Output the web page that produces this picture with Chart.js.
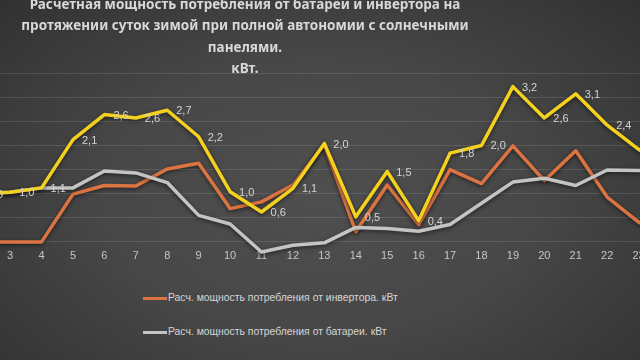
<!DOCTYPE html>
<html>
<head>
<meta charset="utf-8">
<script src="https://cdn.jsdelivr.net/npm/chart.js@4/dist/chart.umd.min.js"></script>
<style>
  html, body { margin: 0; padding: 0; }
  body { width: 640px; height: 360px; overflow: hidden; position: relative;
    background: radial-gradient(ellipse 75% 85% at 50% 55%, #4f4f4f 0%, #474747 45%, #2e2e2e 100%); }
  #c { position: absolute; left: -180px; top: -20px; }
  #legend { position: absolute; left: 143px; top: 291px; margin: 0; padding: 0; list-style: none;
    font-family: "Liberation Sans", Arial, sans-serif; font-size: 10.4px; color: #d6d6d6; }
  #legend li { height: 34px; display: flex; align-items: flex-start; white-space: nowrap; }
  #legend .mk { display: inline-block; width: 24px; height: 3px; margin-top: 6px; margin-right: 1px; }
  #legend .tx { line-height: 14px; }
</style>
</head>
<body>
<canvas id="c" width="850" height="286"></canvas>
<ul id="legend"></ul>
<script>
// ---- data ----
const hours = ['1','2','3','4','5','6','7','8','9','10','11','12','13','14','15','16','17','18','19','20','21','22','23','24'];
const inverterKw = [0, 0, 0, 0, 0.99, 1.17, 1.16, 1.51, 1.63, 0.69, 0.83, 1.18, 2.02, 0.21, 1.18, 0.36, 1.50, 1.21, 1.99, 1.27, 1.89, 0.93, 0.41, 0.10];
const batteryKw  = [1.0, 1.0, 1.03, 1.12, 1.12, 1.47, 1.43, 1.23, 0.55, 0.37, -0.21, -0.07, -0.02, 0.30, 0.28, 0.22, 0.36, 0.80, 1.24, 1.32, 1.17, 1.49, 1.48, 1.45];
const totalKw    = [1.0, 1.0, 1.03, 1.12, 2.12, 2.64, 2.57, 2.73, 2.18, 1.04, 0.62, 1.11, 2.04, 0.52, 1.46, 0.44, 1.84, 2.00, 3.22, 2.57, 3.07, 2.42, 1.92, 1.50];
const seriesNames = [
  'Расч. мощность потребления от инвертора. кВт',
  'Расч. мощность потребления от батареи. кВт',
  'Расч. суммарная мощность потребления. кВт'
];
const titleLines = [
  'Расчетная мощность потребления от батареи и инвертора на',
  'протяжении суток зимой при полной автономии с солнечными',
  'панелями.',
  'кВт.'
];
const yTicks = { min: -0.5, max: 3.5, step: 0.5 };

const shadowPlugin = {
  id: 'lineShadow',
  beforeDatasetDraw(chart) {
    const ctx = chart.ctx;
    ctx.save();
    ctx.shadowColor = 'rgba(0,0,0,0.55)';
    ctx.shadowBlur = 4;
    ctx.shadowOffsetY = 1.5;
  },
  afterDatasetDraw(chart) { chart.ctx.restore(); }
};

const valueLabels = {
  id: 'valueLabels',
  afterDatasetsDraw(chart) {
    const ctx = chart.ctx;
    const idx = 2;
    const meta = chart.getDatasetMeta(idx);
    const data = chart.data.datasets[idx].data;
    ctx.save();
    ctx.font = '11px "Liberation Sans", Arial, sans-serif';
    ctx.fillStyle = '#d4d4d4';
    ctx.textAlign = 'left';
    ctx.textBaseline = 'middle';
    meta.data.forEach((pt, i) => {
      ctx.fillText(data[i].toFixed(1).replace('.', ','), pt.x + 9, pt.y + 1);
    });
    ctx.restore();
  }
};

const chart = new Chart(document.getElementById('c'), {
  type: 'line',
  data: {
    labels: hours,
    datasets: [
      { label: seriesNames[0], data: inverterKw, borderColor: '#dc7442', order: 2 },
      { label: seriesNames[1], data: batteryKw, borderColor: '#c4c4c4', order: 1 },
      { label: seriesNames[2], data: totalKw, borderColor: '#f3d11e', order: 0 }
    ]
  },
  options: {
    responsive: false,
    animation: false,
    devicePixelRatio: 1,
    layout: { padding: 0 },
    elements: {
      line: { borderWidth: 3.5, tension: 0, borderJoinStyle: 'round', borderCapStyle: 'round', fill: false },
      point: { radius: 0, hoverRadius: 0 }
    },
    plugins: {
      legend: { display: false },
      tooltip: { enabled: false },
      title: {
        display: true,
        text: titleLines,
        color: '#d8d8d8',
        font: { family: '"Noto Sans", "Open Sans", sans-serif', size: 13.5, weight: 'bold', lineHeight: 1.58 },
        padding: { top: 14.35, bottom: -6.55 }
      }
    },
    scales: {
      x: {
        type: 'category',
        position: { y: 0 },
        grid: { display: false, drawTicks: false },
        border: { display: false },
        ticks: { color: '#c6c6c6', font: { size: 11, family: '"Liberation Sans", Arial, sans-serif' }, padding: 7, autoSkip: false, maxRotation: 0 },
        afterFit(s) { s.paddingLeft = 0; s.paddingRight = 0; }
      },
      y: {
        min: yTicks.min, max: yTicks.max,
        ticks: { display: false, stepSize: yTicks.step },
        grid: { color: 'rgba(255,255,255,0.12)', lineWidth: 1, drawTicks: false },
        border: { display: false },
        afterFit(s) { s.width = 127.3; }
      }
    }
  },
  plugins: [shadowPlugin, valueLabels]
});

// HTML legend generated from the datasets
const ul = document.getElementById('legend');
chart.data.datasets.forEach(ds => {
  const li = document.createElement('li');
  const mk = document.createElement('span');
  mk.className = 'mk';
  mk.style.background = ds.borderColor;
  const tx = document.createElement('span');
  tx.className = 'tx';
  tx.textContent = ds.label;
  li.appendChild(mk); li.appendChild(tx);
  ul.appendChild(li);
});
</script>
</body>
</html>
